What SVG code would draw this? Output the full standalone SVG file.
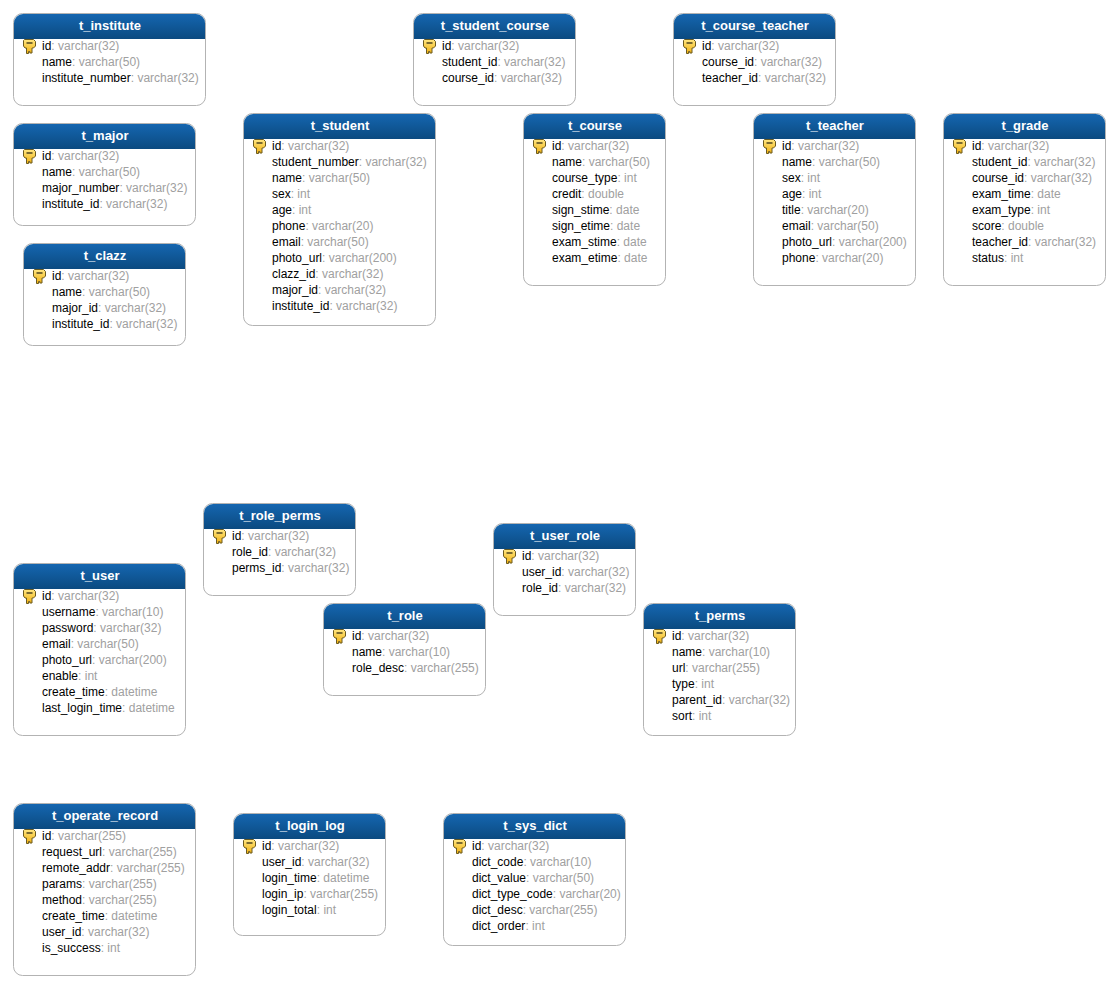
<svg xmlns="http://www.w3.org/2000/svg" xmlns:xlink="http://www.w3.org/1999/xlink" width="1120" height="990" viewBox="0 0 1120 990">
<style>
text{font-family:"Liberation Sans",Arial,sans-serif}
.b{fill:#fff;stroke:#b3b3b3;stroke-width:1}
.h{fill:url(#hg)}
.t{font-size:13px;font-weight:bold;fill:#fff;text-anchor:middle}
.f{font-size:12px;fill:#000}
.f tspan{fill:#a0a0a0}
</style>
<defs>
<linearGradient id="hg" x1="0" y1="0" x2="0" y2="1"><stop offset="0" stop-color="#1566b0"/><stop offset="1" stop-color="#0b4a80"/></linearGradient>
<linearGradient id="kg" x1="0" y1="0" x2="0" y2="1"><stop offset="0" stop-color="#ffe680"/><stop offset="1" stop-color="#f0b010"/></linearGradient>
<g id="key"><path d="M1.500 0.500H10.500L12.500 2.500V7L10.500 9H9V14H6.800L6.800 12.500H5.500V14.500H3.500V9H2L0.500 7V1.500Z" fill="url(#kg)" stroke="#6a5a20" stroke-width="1" stroke-linejoin="round"/><rect x="3.500" y="3" width="6" height="2" fill="#7a6a30"/></g>
</defs>
<g id="connectors"/>

<g id="t_institute" transform="translate(14 14)"><rect class="b" x="-0.500" y="-0.500" width="192" height="92" rx="9"/><path class="h" d="M0 25V9A9 9 0 0 1 9 0H183A9 9 0 0 1 192 9V25Z" transform="scale(.995 1)"/><text class="t" x="96" y="16">t_institute</text><use href="#key" x="9" y="25"/><text class="f" x="28" y="36">id<tspan>: varchar(32)</tspan></text><text class="f" x="28" y="52">name<tspan>: varchar(50)</tspan></text><text class="f" x="28" y="68">institute_number<tspan>: varchar(32)</tspan></text></g>

<g id="t_major" transform="translate(14 124)"><rect class="b" x="-0.500" y="-0.500" width="182" height="102" rx="9"/><path class="h" d="M0 25V9A9 9 0 0 1 9 0H172A9 9 0 0 1 181 9V25Z"/><text class="t" x="91" y="16">t_major</text><use href="#key" x="9" y="25"/><text class="f" x="28" y="36">id<tspan>: varchar(32)</tspan></text><text class="f" x="28" y="52">name<tspan>: varchar(50)</tspan></text><text class="f" x="28" y="68">major_number<tspan>: varchar(32)</tspan></text><text class="f" x="28" y="84">institute_id<tspan>: varchar(32)</tspan></text></g>

<g id="t_clazz" transform="translate(24 244)"><rect class="b" x="-0.500" y="-0.500" width="162" height="102" rx="9"/><path class="h" d="M0 25V9A9 9 0 0 1 9 0H152A9 9 0 0 1 161 9V25Z"/><text class="t" x="81" y="16">t_clazz</text><use href="#key" x="9" y="25"/><text class="f" x="28" y="36">id<tspan>: varchar(32)</tspan></text><text class="f" x="28" y="52">name<tspan>: varchar(50)</tspan></text><text class="f" x="28" y="68">major_id<tspan>: varchar(32)</tspan></text><text class="f" x="28" y="84">institute_id<tspan>: varchar(32)</tspan></text></g>

<g id="t_student" transform="translate(244 114)"><rect class="b" x="-0.500" y="-0.500" width="192" height="212" rx="9"/><path class="h" d="M0 25V9A9 9 0 0 1 9 0H182A9 9 0 0 1 191 9V25Z"/><text class="t" x="96" y="16">t_student</text><use href="#key" x="9" y="25"/><text class="f" x="28" y="36">id<tspan>: varchar(32)</tspan></text><text class="f" x="28" y="52">student_number<tspan>: varchar(32)</tspan></text><text class="f" x="28" y="68">name<tspan>: varchar(50)</tspan></text><text class="f" x="28" y="84">sex<tspan>: int</tspan></text><text class="f" x="28" y="100">age<tspan>: int</tspan></text><text class="f" x="28" y="116">phone<tspan>: varchar(20)</tspan></text><text class="f" x="28" y="132">email<tspan>: varchar(50)</tspan></text><text class="f" x="28" y="148">photo_url<tspan>: varchar(200)</tspan></text><text class="f" x="28" y="164">clazz_id<tspan>: varchar(32)</tspan></text><text class="f" x="28" y="180">major_id<tspan>: varchar(32)</tspan></text><text class="f" x="28" y="196">institute_id<tspan>: varchar(32)</tspan></text></g>

<g id="t_student_course" transform="translate(414 14)"><rect class="b" x="-0.500" y="-0.500" width="162" height="92" rx="9"/><path class="h" d="M0 25V9A9 9 0 0 1 9 0H152A9 9 0 0 1 161 9V25Z"/><text class="t" x="81" y="16">t_student_course</text><use href="#key" x="9" y="25"/><text class="f" x="28" y="36">id<tspan>: varchar(32)</tspan></text><text class="f" x="28" y="52">student_id<tspan>: varchar(32)</tspan></text><text class="f" x="28" y="68">course_id<tspan>: varchar(32)</tspan></text></g>

<g id="t_course_teacher" transform="translate(674 14)"><rect class="b" x="-0.500" y="-0.500" width="162" height="92" rx="9"/><path class="h" d="M0 25V9A9 9 0 0 1 9 0H152A9 9 0 0 1 161 9V25Z"/><text class="t" x="81" y="16">t_course_teacher</text><use href="#key" x="9" y="25"/><text class="f" x="28" y="36">id<tspan>: varchar(32)</tspan></text><text class="f" x="28" y="52">course_id<tspan>: varchar(32)</tspan></text><text class="f" x="28" y="68">teacher_id<tspan>: varchar(32)</tspan></text></g>

<g id="t_course" transform="translate(524 114)"><rect class="b" x="-0.500" y="-0.500" width="142" height="172" rx="9"/><path class="h" d="M0 25V9A9 9 0 0 1 9 0H132A9 9 0 0 1 141 9V25Z"/><text class="t" x="71" y="16">t_course</text><use href="#key" x="9" y="25"/><text class="f" x="28" y="36">id<tspan>: varchar(32)</tspan></text><text class="f" x="28" y="52">name<tspan>: varchar(50)</tspan></text><text class="f" x="28" y="68">course_type<tspan>: int</tspan></text><text class="f" x="28" y="84">credit<tspan>: double</tspan></text><text class="f" x="28" y="100">sign_stime<tspan>: date</tspan></text><text class="f" x="28" y="116">sign_etime<tspan>: date</tspan></text><text class="f" x="28" y="132">exam_stime<tspan>: date</tspan></text><text class="f" x="28" y="148">exam_etime<tspan>: date</tspan></text></g>

<g id="t_teacher" transform="translate(754 114)"><rect class="b" x="-0.500" y="-0.500" width="162" height="172" rx="9"/><path class="h" d="M0 25V9A9 9 0 0 1 9 0H152A9 9 0 0 1 161 9V25Z"/><text class="t" x="81" y="16">t_teacher</text><use href="#key" x="9" y="25"/><text class="f" x="28" y="36">id<tspan>: varchar(32)</tspan></text><text class="f" x="28" y="52">name<tspan>: varchar(50)</tspan></text><text class="f" x="28" y="68">sex<tspan>: int</tspan></text><text class="f" x="28" y="84">age<tspan>: int</tspan></text><text class="f" x="28" y="100">title<tspan>: varchar(20)</tspan></text><text class="f" x="28" y="116">email<tspan>: varchar(50)</tspan></text><text class="f" x="28" y="132">photo_url<tspan>: varchar(200)</tspan></text><text class="f" x="28" y="148">phone<tspan>: varchar(20)</tspan></text></g>

<g id="t_grade" transform="translate(944 114)"><rect class="b" x="-0.500" y="-0.500" width="162" height="172" rx="9"/><path class="h" d="M0 25V9A9 9 0 0 1 9 0H152A9 9 0 0 1 161 9V25Z"/><text class="t" x="81" y="16">t_grade</text><use href="#key" x="9" y="25"/><text class="f" x="28" y="36">id<tspan>: varchar(32)</tspan></text><text class="f" x="28" y="52">student_id<tspan>: varchar(32)</tspan></text><text class="f" x="28" y="68">course_id<tspan>: varchar(32)</tspan></text><text class="f" x="28" y="84">exam_time<tspan>: date</tspan></text><text class="f" x="28" y="100">exam_type<tspan>: int</tspan></text><text class="f" x="28" y="116">score<tspan>: double</tspan></text><text class="f" x="28" y="132">teacher_id<tspan>: varchar(32)</tspan></text><text class="f" x="28" y="148">status<tspan>: int</tspan></text></g>

<g id="t_user" transform="translate(14 564)"><rect class="b" x="-0.500" y="-0.500" width="172" height="172" rx="9"/><path class="h" d="M0 25V9A9 9 0 0 1 9 0H162A9 9 0 0 1 171 9V25Z"/><text class="t" x="86" y="16">t_user</text><use href="#key" x="9" y="25"/><text class="f" x="28" y="36">id<tspan>: varchar(32)</tspan></text><text class="f" x="28" y="52">username<tspan>: varchar(10)</tspan></text><text class="f" x="28" y="68">password<tspan>: varchar(32)</tspan></text><text class="f" x="28" y="84">email<tspan>: varchar(50)</tspan></text><text class="f" x="28" y="100">photo_url<tspan>: varchar(200)</tspan></text><text class="f" x="28" y="116">enable<tspan>: int</tspan></text><text class="f" x="28" y="132">create_time<tspan>: datetime</tspan></text><text class="f" x="28" y="148">last_login_time<tspan>: datetime</tspan></text></g>

<g id="t_role_perms" transform="translate(204 504)"><rect class="b" x="-0.500" y="-0.500" width="152" height="92" rx="9"/><path class="h" d="M0 25V9A9 9 0 0 1 9 0H142A9 9 0 0 1 151 9V25Z"/><text class="t" x="76" y="16">t_role_perms</text><use href="#key" x="9" y="25"/><text class="f" x="28" y="36">id<tspan>: varchar(32)</tspan></text><text class="f" x="28" y="52">role_id<tspan>: varchar(32)</tspan></text><text class="f" x="28" y="68">perms_id<tspan>: varchar(32)</tspan></text></g>

<g id="t_role" transform="translate(324 604)"><rect class="b" x="-0.500" y="-0.500" width="162" height="92" rx="9"/><path class="h" d="M0 25V9A9 9 0 0 1 9 0H152A9 9 0 0 1 161 9V25Z"/><text class="t" x="81" y="16">t_role</text><use href="#key" x="9" y="25"/><text class="f" x="28" y="36">id<tspan>: varchar(32)</tspan></text><text class="f" x="28" y="52">name<tspan>: varchar(10)</tspan></text><text class="f" x="28" y="68">role_desc<tspan>: varchar(255)</tspan></text></g>

<g id="t_user_role" transform="translate(494 524)"><rect class="b" x="-0.500" y="-0.500" width="142" height="92" rx="9"/><path class="h" d="M0 25V9A9 9 0 0 1 9 0H132A9 9 0 0 1 141 9V25Z"/><text class="t" x="71" y="16">t_user_role</text><use href="#key" x="9" y="25"/><text class="f" x="28" y="36">id<tspan>: varchar(32)</tspan></text><text class="f" x="28" y="52">user_id<tspan>: varchar(32)</tspan></text><text class="f" x="28" y="68">role_id<tspan>: varchar(32)</tspan></text></g>

<g id="t_perms" transform="translate(644 604)"><rect class="b" x="-0.500" y="-0.500" width="152" height="132" rx="9"/><path class="h" d="M0 25V9A9 9 0 0 1 9 0H142A9 9 0 0 1 151 9V25Z"/><text class="t" x="76" y="16">t_perms</text><use href="#key" x="9" y="25"/><text class="f" x="28" y="36">id<tspan>: varchar(32)</tspan></text><text class="f" x="28" y="52">name<tspan>: varchar(10)</tspan></text><text class="f" x="28" y="68">url<tspan>: varchar(255)</tspan></text><text class="f" x="28" y="84">type<tspan>: int</tspan></text><text class="f" x="28" y="100">parent_id<tspan>: varchar(32)</tspan></text><text class="f" x="28" y="116">sort<tspan>: int</tspan></text></g>

<g id="t_operate_record" transform="translate(14 804)"><rect class="b" x="-0.500" y="-0.500" width="182" height="172" rx="9"/><path class="h" d="M0 25V9A9 9 0 0 1 9 0H172A9 9 0 0 1 181 9V25Z"/><text class="t" x="91" y="16">t_operate_record</text><use href="#key" x="9" y="25"/><text class="f" x="28" y="36">id<tspan>: varchar(255)</tspan></text><text class="f" x="28" y="52">request_url<tspan>: varchar(255)</tspan></text><text class="f" x="28" y="68">remote_addr<tspan>: varchar(255)</tspan></text><text class="f" x="28" y="84">params<tspan>: varchar(255)</tspan></text><text class="f" x="28" y="100">method<tspan>: varchar(255)</tspan></text><text class="f" x="28" y="116">create_time<tspan>: datetime</tspan></text><text class="f" x="28" y="132">user_id<tspan>: varchar(32)</tspan></text><text class="f" x="28" y="148">is_success<tspan>: int</tspan></text></g>

<g id="t_login_log" transform="translate(234 814)"><rect class="b" x="-0.500" y="-0.500" width="152" height="122" rx="9"/><path class="h" d="M0 25V9A9 9 0 0 1 9 0H142A9 9 0 0 1 151 9V25Z"/><text class="t" x="76" y="16">t_login_log</text><use href="#key" x="9" y="25"/><text class="f" x="28" y="36">id<tspan>: varchar(32)</tspan></text><text class="f" x="28" y="52">user_id<tspan>: varchar(32)</tspan></text><text class="f" x="28" y="68">login_time<tspan>: datetime</tspan></text><text class="f" x="28" y="84">login_ip<tspan>: varchar(255)</tspan></text><text class="f" x="28" y="100">login_total<tspan>: int</tspan></text></g>

<g id="t_sys_dict" transform="translate(444 814)"><rect class="b" x="-0.500" y="-0.500" width="182" height="132" rx="9"/><path class="h" d="M0 25V9A9 9 0 0 1 9 0H172A9 9 0 0 1 181 9V25Z"/><text class="t" x="91" y="16">t_sys_dict</text><use href="#key" x="9" y="25"/><text class="f" x="28" y="36">id<tspan>: varchar(32)</tspan></text><text class="f" x="28" y="52">dict_code<tspan>: varchar(10)</tspan></text><text class="f" x="28" y="68">dict_value<tspan>: varchar(50)</tspan></text><text class="f" x="28" y="84">dict_type_code<tspan>: varchar(20)</tspan></text><text class="f" x="28" y="100">dict_desc<tspan>: varchar(255)</tspan></text><text class="f" x="28" y="116">dict_order<tspan>: int</tspan></text></g>
</svg>
